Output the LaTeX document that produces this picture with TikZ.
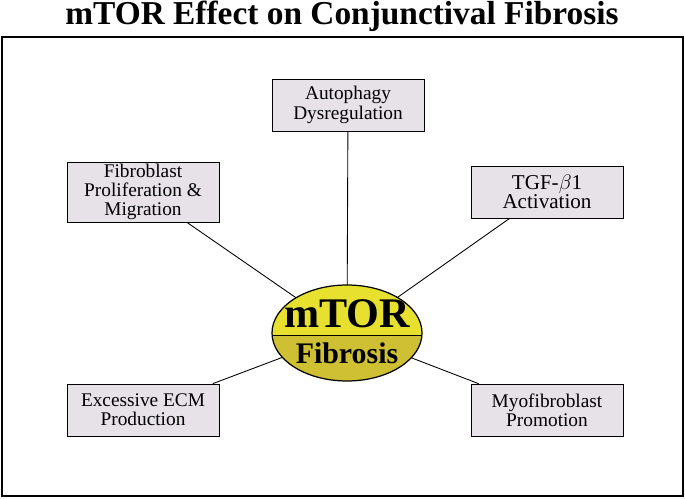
\documentclass[tikz,border=0pt]{standalone}
\usepackage{fontspec}
\setmainfont{Liberation Serif}
\definecolor{boxfill}{HTML}{E6E2E8}
\definecolor{topyel}{HTML}{E8E02E}
\definecolor{botyel}{HTML}{CFBF32}
\begin{document}
\begin{tikzpicture}[
		x=0.02cm, y=-0.02cm,
		effect/.style={draw, fill=boxfill, minimum width=3.04cm, minimum height=1.04cm, align=center, font=\fontsize{11}{11}\selectfont, inner sep=1pt},
		link/.style={draw, line width=0.5pt}
	]
	\useasboundingbox (0,0) rectangle (685,499);
	\node (title) at (342,16) {\fontsize{19}{19}\selectfont\bfseries mTOR Effect on Conjunctival Fibrosis};
	\draw[line width=0.7pt] (2,37) rectangle (683,496);
	\coordinate (hub) at (347,333);
	\node[effect] (autophagy) at (348,105) {Autophagy\\Dysregulation};
	\node[effect] (fibro) at (143,192) {Fibroblast\\Proliferation \&\\Migration};
	\node[effect] (tgf) at (547,192) {\fontsize{12}{13}\selectfont TGF-$\beta$1\\\fontsize{12}{13}\selectfont Activation};
	\node[effect] (ecm) at (143,410) {Excessive ECM\\Production};
	\node[effect] (myo) at (547,410) {Myofibroblast\\Promotion};
	\foreach \n in {autophagy,fibro,tgf,ecm,myo}
		\draw[link] (\n) -- (hub);
	\begin{scope}
		\clip (hub) ellipse [x radius=75, y radius=48];
		\fill[topyel] (272,280) rectangle (423,335);
		\fill[botyel] (272,335) rectangle (423,385);
		\draw (272,335) -- (423,335);
	\end{scope}
	\draw[line width=0.7pt] (hub) ellipse [x radius=75, y radius=48];
	\node (mtor) at (347,314) {\fontsize{24}{24}\selectfont\bfseries mTOR};
	\node (fibrosis) at (347,353) {\fontsize{17}{17}\selectfont\bfseries Fibrosis};
\end{tikzpicture}
\end{document}
